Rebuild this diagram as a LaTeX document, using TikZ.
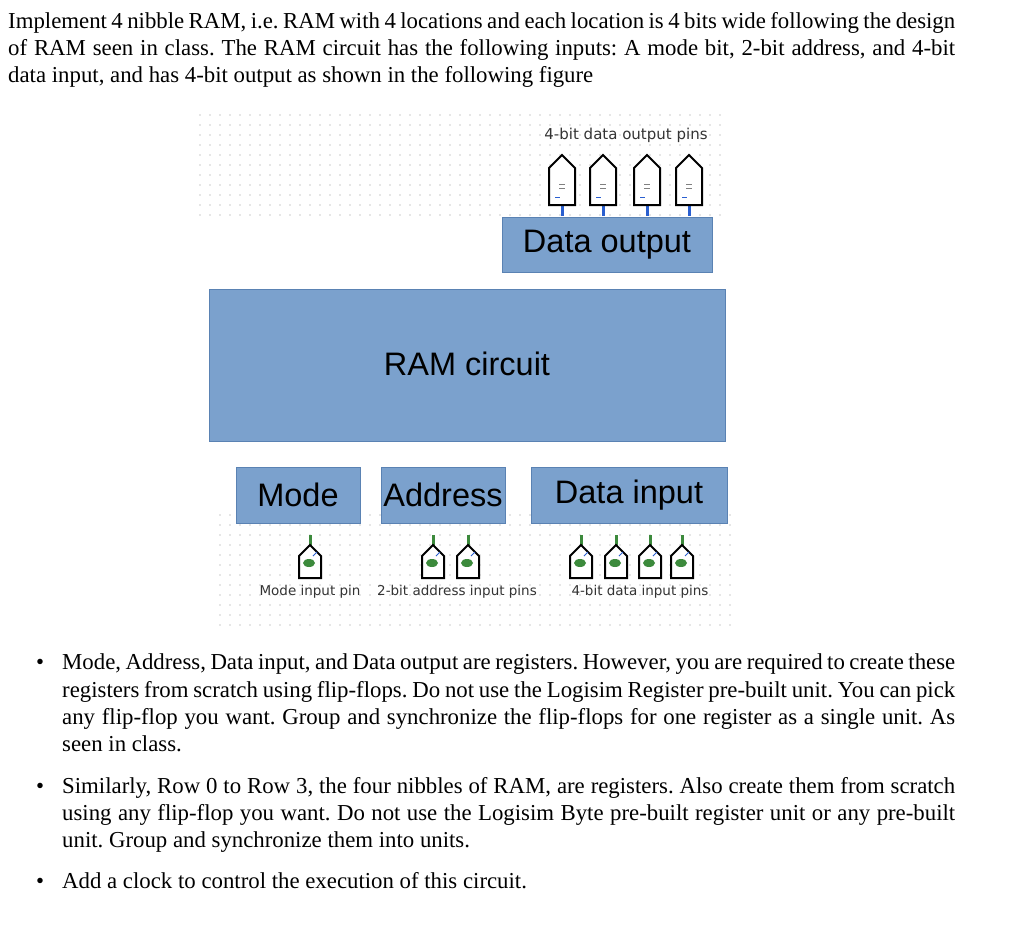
\documentclass[tikz,border=0pt]{standalone}
\usepackage{fontspec}
\setmainfont{Liberation Serif}
\newfontfamily\boxfont{Liberation Sans}
\newfontfamily\pinfont{DejaVu Sans}
\definecolor{boxfill}{HTML}{7BA1CD}
\definecolor{boxline}{HTML}{5A82B3}
\definecolor{pgreen}{HTML}{3C8A3C}
\definecolor{pblue}{HTML}{2A5FD0}
\frenchspacing
\tikzset{
  reg/.style={draw=boxline,fill=boxfill,line width=1pt},
  regtext/.style={font=\boxfont\fontsize{32.5}{36}\selectfont,inner sep=0pt},
  pinlabel/.style={font=\pinfont\fontsize{13.5}{15}\selectfont,text=black!80,inner sep=0pt},
  jline/.style={anchor=base west,inner sep=0pt,font=\fontsize{22.8}{25}\selectfont},
  dot/.style={fill=black!20}
}
\newcommand{\J}[1]{\makebox[947pt][s]{#1}}
\newcommand{\JB}[1]{\makebox[893pt][s]{#1}}
\begin{document}
\begin{tikzpicture}[x=1pt,y=-1pt]
\useasboundingbox (0,0) rectangle (1024,924);
% grid dots
\foreach \x in {200,210,...,720}{\foreach \y in {115,125,...,215}{\fill[dot] (\x,\y) circle (0.8);}}
\foreach \x in {220,230,...,730}{\foreach \y in {515,525,...,630}{\fill[dot] (\x,\y) circle (0.8);}}
% text
\node[jline] (t1) at (8,28) {\J{Implement 4 nibble RAM, i.e. RAM with 4 locations and each location is 4 bits wide following the design}};
\node[jline] (t2) at (8,55) {\J{of RAM seen in class. The RAM circuit has the following inputs: A mode bit, 2-bit address, and 4-bit}};
\node[jline] (t3) at (8,82) {data input, and has 4-bit output as shown in the following figure};
% boxes
\node[reg,minimum width=210,minimum height=55] (dout) at (607,244.5) {};
\node[regtext] at (dout) {Data output};
\node[reg,minimum width=516,minimum height=152] (ram) at (467,365) {};
\node[regtext] at (467,364) {RAM circuit};
\node[reg,minimum width=124,minimum height=56] (mode) at (298,495) {};
\node[regtext] at (mode) {Mode};
\node[reg,minimum width=124,minimum height=56] (addr) at (443,495) {};
\node[regtext] at (addr) {Address};
\node[reg,minimum width=196,minimum height=56] (din) at (629,495) {};
\node[regtext] at (din) {Data input};
% output pins
\foreach \x in {562,603,647,689}{
  \draw[pblue,line width=3pt] (\x,205) -- (\x,216);
  \draw[line width=2pt,fill=white] (\x-13,205) -- (\x-13,168) -- (\x,155) -- (\x+13,168) -- (\x+13,205) -- cycle;
  \draw[black!50,line width=0.6pt] (\x-3,184) -- (\x+3,184) (\x-3,188)--(\x+3,188);
  \draw[pblue,line width=1pt] (\x-7,197) -- (\x-2,197);
}
\node[pinlabel,font=\pinfont\fontsize{15}{17}\selectfont] (olab) at (626,135) {4-bit data output pins};
% input pins
\foreach \x in {310,433,468,581,616,650,682}{
  \draw[pgreen,line width=3pt] (\x,535) -- (\x,546);
  \draw[line width=2pt,fill=white] (\x-11,578) -- (\x-11,556) -- (\x,545) -- (\x+11,556) -- (\x+11,578) -- cycle;
  \fill[pgreen] (\x-1,563) ellipse (6 and 4);
  \draw[pblue,line width=1pt] (\x+3,556) -- (\x+7,552);
}
\node[pinlabel] (l1) at (310,592) {Mode input pin};
\node[pinlabel] (l2) at (457,592) {2-bit address input pins};
\node[pinlabel] (l3) at (640,592) {4-bit data input pins};
% bullets
\foreach \y in {669,793,888}{\node[jline] at (36,\y) {\textbullet};}
\node[jline] at (62,669) {\JB{Mode, Address, Data input, and Data output are registers. However, you are required to create these}};
\node[jline] at (62,697) {\JB{registers from scratch using flip-flops. Do not use the Logisim Register pre-built unit. You can pick}};
\node[jline] at (62,724) {\JB{any flip-flop you want. Group and synchronize the flip-flops for one register as a single unit. As}};
\node[jline] at (62,751) {seen in class.};
\node[jline] at (62,793) {\JB{Similarly, Row 0 to Row 3, the four nibbles of RAM, are registers. Also create them from scratch}};
\node[jline] at (62,820) {\JB{using any flip-flop you want. Do not use the Logisim Byte pre-built register unit or any pre-built}};
\node[jline] at (62,847) {unit. Group and synchronize them into units.};
\node[jline] at (62,888) {Add a clock to control the execution of this circuit.};
\end{tikzpicture}
\end{document}
